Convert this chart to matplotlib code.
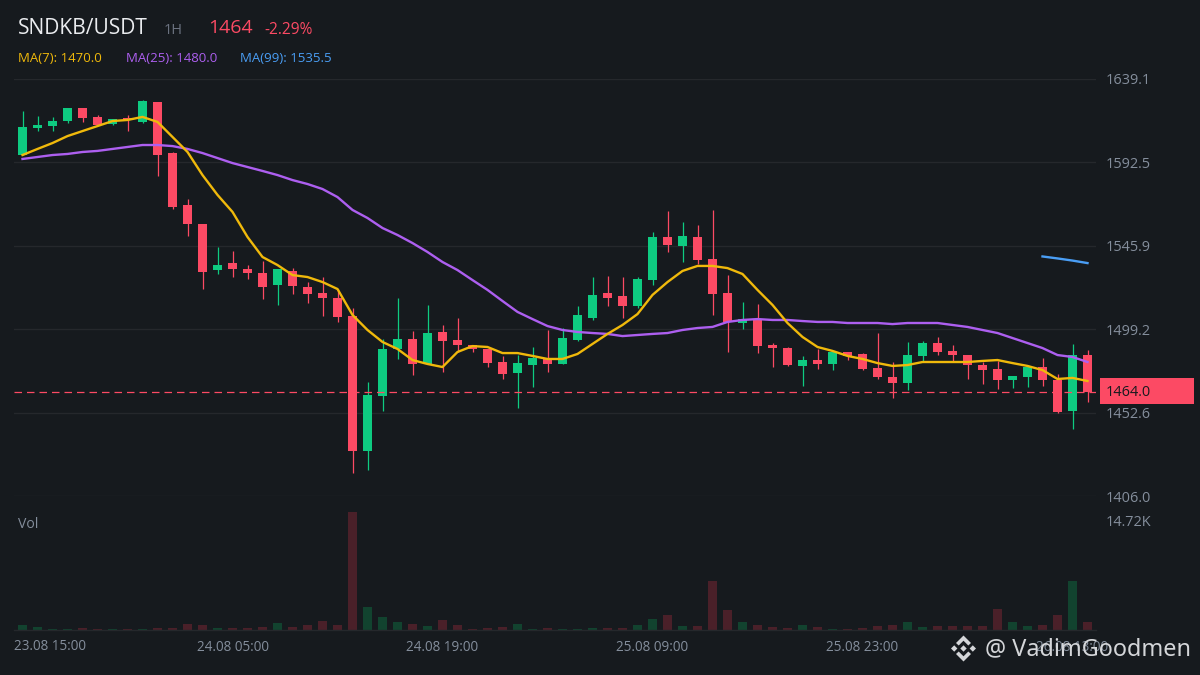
import matplotlib
matplotlib.use("Agg")
import matplotlib.pyplot as plt
from matplotlib.patches import Polygon, Rectangle

# ---------- data ----------
opens = [1596.6,1611.7,1612.8,1615.6,1622.9,1617.9,1613.9,1617.3,1615.0,1626.2,1597.7,1568.7,
         1558.0,1532.3,1536.2,1532.9,1530.7,1523.9,1531.8,1522.8,1519.5,1516.7,1506.6,1431.1,
         1461.9,1488.2,1493.8,1479.8,1497.7,1493.2,1490.4,1488.2,1480.9,1474.8,1479.2,1482.6,
         1479.8,1493.2,1505.5,1519.5,1517.8,1512.2,1526.7,1550.8,1545.8,1550.8,1538.5,1519.5,
         1502.7,1504.9,1490.4,1488.7,1478.7,1482.0,1479.8,1486.5,1485.4,1477.6,1472.5,1469.2,
         1484.3,1491.5,1487.0,1484.8,1479.2,1477.0,1470.8,1472.5,1478.1,1470.8,1453.5,1484.8]
highs = [1621.2,1618.4,1617.9,1622.9,1622.9,1619.0,1616.7,1619.0,1627.4,1626.2,1598.3,1572.0,
         1558.0,1545.2,1543.0,1535.1,1537.4,1532.9,1533.5,1525.6,1528.4,1521.7,1511.1,1469.7,
         1493.8,1516.7,1498.2,1512.8,1501.6,1505.5,1490.4,1488.2,1484.3,1484.8,1489.3,1498.8,
         1499.9,1512.2,1528.4,1529.0,1528.4,1528.4,1553.6,1565.3,1559.2,1557.5,1565.9,1529.5,
         1514.4,1513.3,1491.5,1489.3,1484.3,1488.2,1486.5,1486.5,1485.9,1497.1,1480.9,1492.1,
         1492.6,1494.9,1490.4,1484.8,1480.9,1481.5,1473.1,1479.2,1483.1,1474.2,1490.9,1487.6]
lows = [1596.6,1610.0,1610.0,1614.5,1615.0,1613.4,1613.4,1610.0,1614.5,1584.9,1566.4,1551.3,
        1521.7,1530.1,1528.4,1527.3,1516.1,1512.8,1518.9,1513.9,1506.6,1503.3,1418.9,1420.5,
        1453.5,1482.6,1473.6,1479.8,1475.3,1486.5,1486.5,1478.1,1471.4,1455.2,1466.9,1475.3,
        1479.8,1492.6,1504.4,1512.2,1505.5,1511.1,1523.9,1542.4,1536.8,1535.7,1507.2,1486.5,
        1499.3,1485.9,1478.1,1478.7,1467.5,1477.0,1476.4,1482.0,1476.4,1471.4,1460.8,1465.2,
        1480.9,1484.8,1480.9,1471.4,1468.6,1465.8,1466.4,1466.9,1467.5,1452.4,1443.4,1458.5]
closes = [1612.3,1613.4,1615.6,1622.9,1617.3,1613.4,1616.7,1616.2,1626.8,1596.6,1567.5,1558.0,
          1531.2,1535.1,1532.9,1530.7,1522.8,1532.9,1523.4,1518.9,1516.7,1506.1,1431.1,1462.5,
          1488.2,1493.8,1479.8,1497.1,1492.6,1490.4,1488.2,1480.3,1474.2,1480.3,1483.1,1479.8,
          1494.3,1507.2,1518.4,1516.7,1512.2,1527.3,1550.8,1546.3,1551.3,1537.9,1518.9,1503.3,
          1504.9,1489.9,1488.7,1479.2,1482.0,1479.8,1486.5,1484.3,1477.0,1472.5,1469.2,1484.8,
          1491.5,1486.5,1484.8,1479.2,1476.4,1470.8,1473.1,1478.1,1470.8,1453.0,1484.8,1464.0]
ma7 = [1596.6,1600.0,1603.3,1607.2,1610.0,1612.8,1615.6,1616.2,1617.9,1615.1,1606.7,1598.3,
       1585.4,1574.3,1564.8,1550.8,1539.6,1535.1,1529.5,1528.4,1525.6,1521.7,1507.2,1498.8,
       1492.1,1488.2,1482.0,1479.8,1478.1,1486.5,1489.8,1489.3,1485.9,1485.9,1484.3,1482.6,
       1482.6,1485.4,1491.0,1496.6,1501.6,1507.7,1518.4,1525.6,1531.8,1534.6,1534.6,1533.4,
       1530.1,1521.2,1512.8,1502.7,1494.9,1489.3,1487.1,1484.3,1482.6,1480.3,1478.7,1479.2,
       1480.9,1480.9,1480.9,1480.9,1481.5,1482.0,1480.3,1478.7,1476.4,1471.4,1472.0,1470.3]
ma25 = [1594.4,1595.5,1596.6,1597.2,1598.3,1598.9,1600.0,1601.1,1602.2,1602.2,1601.6,1600.0,
        1597.7,1594.9,1592.1,1589.9,1587.7,1585.4,1582.6,1580.4,1577.6,1573.1,1565.9,1561.4,
        1555.8,1551.9,1547.4,1542.4,1536.8,1532.3,1526.7,1521.2,1515.0,1508.9,1504.9,1501.0,
        1498.8,1497.7,1497.1,1496.6,1495.4,1496.0,1496.6,1497.1,1498.8,1499.9,1500.5,1503.3,
        1504.4,1504.9,1504.4,1504.4,1503.8,1503.3,1503.3,1502.7,1502.7,1502.7,1502.1,1502.7,
        1502.7,1502.7,1501.6,1500.5,1498.8,1497.1,1494.3,1491.5,1488.7,1484.8,1483.7,1480.9]
ma99_index = [68, 69, 70, 71]
ma99 = [1539.9, 1538.8, 1537.6, 1536.2]
volumes = [0.72,0.45,0.18,0.18,0.31,0.18,0.18,0.18,0.18,0.31,0.31,0.85,
           0.72,0.31,0.31,0.31,0.45,0.99,0.45,0.72,1.26,0.72,15.93,3.15,
           1.80,1.12,0.85,0.58,1.39,0.72,0.18,0.31,0.45,0.85,0.18,0.31,
           0.18,0.18,0.31,0.31,0.31,0.72,1.53,2.07,0.58,0.58,6.66,2.74,
           1.12,0.72,0.45,0.31,0.72,0.45,0.18,0.18,0.31,0.58,0.72,1.12,
           0.45,0.58,0.58,0.58,0.58,2.88,1.12,0.58,0.72,2.07,6.66,1.12]
price_ticks = [1639.1, 1592.5, 1545.9, 1499.2, 1452.6, 1406.0]
date_ticks = [14, 28, 42, 56, 70]
date_labels = ["24.08 05:00", "24.08 19:00", "25.08 09:00", "25.08 23:00", "26.08 13:00"]
first_date_label = "23.08 15:00"
last_price = 1464.0
vol_tick = 14.72

# ---------- style ----------
BG = "#161A1E"
GRID = "#25282C"
UP = "#0ECB81"
DOWN = "#FC4A64"
UP_VOL = "#12432F"
DOWN_VOL = "#4A2029"
GRAY = "#848E9C"
YELLOW = "#F0B90B"
PURPLE = "#AD5FF0"
BLUE = "#4A9EF5"
FONT = ["Open Sans", "DejaVu Sans"]
plt.rcParams["font.family"] = FONT

W, H = 1200, 675
fig = plt.figure(figsize=(12, 6.75), dpi=100, facecolor=BG)

def fx(x): return x / W
def fy(y): return 1 - y / H
def ftext(x, y, s, size_px, color, **kw):
    kw.setdefault("va", "center")
    kw.setdefault("ha", "left")
    fig.text(fx(x), fy(y), s, fontsize=size_px * 0.72, color=color, **kw)

L, R = 14, 1096
ax = fig.add_axes([fx(L), fy(496), (R - L) / W, (496 - 79) / H], facecolor=BG)
vax = fig.add_axes([fx(L), fy(630), (R - L) / W, 130 / H], facecolor="none")
idx = list(range(len(closes)))
XLIM = ((L - 22.5) / 15, (R - 22.5) / 15)

# ---------- price panel ----------
ax.set_xlim(*XLIM)
ax.set_ylim(price_ticks[-1], price_ticks[0])
ax.set_yticks(price_ticks)
ax.set_yticklabels([f"{p:.1f}" for p in price_ticks])
ax.yaxis.tick_right()
ax.tick_params(axis="y", length=0, pad=7, labelsize=14.5 * 0.72, labelcolor=GRAY)
ax.tick_params(axis="x", length=0, labelbottom=False)
ax.grid(axis="y", color=GRID, lw=1)
ax.set_axisbelow(True)
for s in ax.spines.values():
    s.set_visible(False)

for i, o, h, l, c in zip(idx, opens, highs, lows, closes):
    col = UP if c >= o else DOWN
    ax.vlines(i, l, h, color=col, lw=0.9, zorder=2)
    ax.bar(i, abs(c - o), bottom=min(o, c), width=0.6, color=col, lw=0, zorder=3)

ax.axhline(last_price, color=DOWN, lw=0.9, dashes=(6, 4), zorder=4)
ax.plot(idx, ma25, color=PURPLE, lw=1.7, zorder=5)
ax.plot(idx, ma7, color=YELLOW, lw=1.7, zorder=6)
ax.plot(ma99_index, ma99, color=BLUE, lw=1.7, zorder=5)

# ---------- volume panel ----------
vax.set_xlim(*XLIM)
vax.set_ylim(0, 17.55)
vax.bar(idx, volumes, width=0.6, lw=0,
        color=[UP_VOL if c >= o else DOWN_VOL for o, c in zip(opens, closes)])
vax.set_yticks([vol_tick])
vax.set_yticklabels([f"{vol_tick}K"])
vax.yaxis.tick_right()
vax.tick_params(axis="y", length=0, pad=7, labelsize=14.5 * 0.72, labelcolor=GRAY)
vax.set_xticks(date_ticks)
vax.set_xticklabels(date_labels)
vax.tick_params(axis="x", length=0, pad=7, labelsize=13.5 * 0.72, labelcolor=GRAY)
for name, s in vax.spines.items():
    s.set_visible(name == "bottom")
vax.spines["bottom"].set_color(GRID)
vax.spines["bottom"].set_linewidth(1)

# ---------- header ----------
ftext(18, 28, "SNDKB/USDT", 21, "#EAECEF")
ftext(164, 30, "1H", 14.5, "#6B7280")
ftext(208, 28, "1464", 19.5, DOWN)
ftext(264, 30, "-2.29%", 15.5, DOWN)
ftext(18, 58, "MA(7): 1470.0", 13.3, YELLOW)
ftext(126, 58, "MA(25): 1480.0", 13.3, PURPLE)
ftext(240, 58, "MA(99): 1535.5", 13.3, BLUE)
ftext(18, 524, "Vol", 14, GRAY)
ftext(14, 647, first_date_label, 13.5, GRAY)

# ---------- last price tag ----------
fig.add_artist(Rectangle((fx(1100), fy(404)), 94 / W, 26 / H, transform=fig.transFigure,
                         facecolor=DOWN, edgecolor="none", zorder=8))
ftext(1106, 393, f"{last_price:.1f}", 14.5, BG, zorder=9)

# ---------- watermark ----------
LOGO = "#D4D6D9"
cx, cy = 963.5, 648.5
shapes = [
    [(-3.2, 0), (0, -3.2), (3.2, 0), (0, 3.2)],
    [(-12.5, 0), (-9.3, -3.2), (-6.1, 0), (-9.3, 3.2)],
    [(12.5, 0), (9.3, -3.2), (6.1, 0), (9.3, 3.2)],
    [(0, -13), (7.5, -5.5), (4.8, -3), (0, -7.8), (-4.8, -3), (-7.5, -5.5)],
    [(0, 13), (7.5, 5.5), (4.8, 3), (0, 7.8), (-4.8, 3), (-7.5, 5.5)],
]
for pts in shapes:
    fig.add_artist(Polygon([(fx(cx + a), fy(cy + b)) for a, b in pts], closed=True,
                           transform=fig.transFigure, facecolor=LOGO, edgecolor="none", zorder=10))
ftext(985, 649, "@ VadimGoodmen", 23.5, LOGO, zorder=10, family="Noto Sans")

fig.savefig("out.png", dpi=100, facecolor=BG)
